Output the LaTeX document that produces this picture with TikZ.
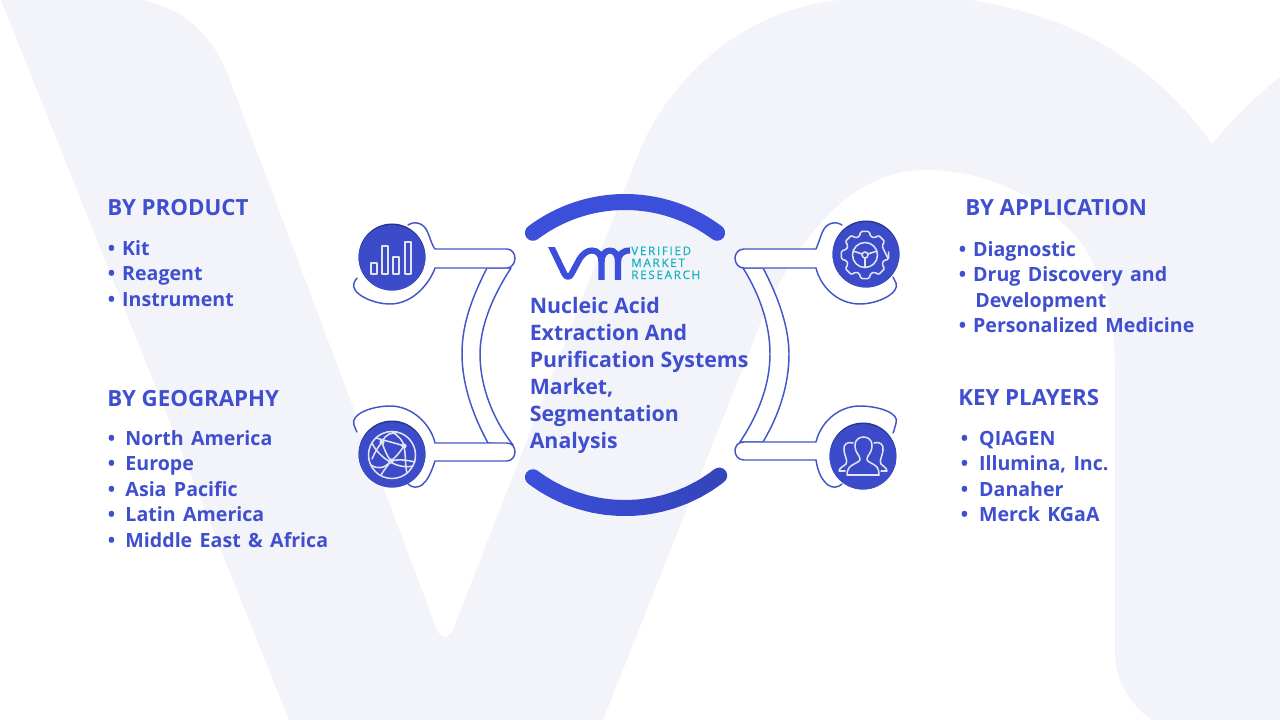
\documentclass[tikz,border=0pt]{standalone}
\usepackage{fontspec}
\setmainfont{Open Sans}
\newfontfamily\logofont[LetterSpace=14,FakeBold=0.5]{Open Sans}
\newfontfamily\itemfont[WordSpace=1.45]{Open Sans}
\definecolor{bgtint}{HTML}{F3F4FA}
\definecolor{ink}{HTML}{3F4FCF}
\definecolor{ringblue}{HTML}{3B4FDB}
\definecolor{lineblue}{HTML}{4157C9}
\definecolor{discblue}{HTML}{3B4BC9}
\definecolor{discdark}{HTML}{2C3690}
\definecolor{iconline}{HTML}{E2E4F0}
\definecolor{teal}{HTML}{17B4BF}
\tikzset{
  x=0.75pt,y=-0.75pt,
  head/.style={anchor=base west,inner sep=0pt,font=\fontsize{16.7pt}{18pt}\selectfont\bfseries,text=ink},
  item/.style={anchor=base west,inner sep=0pt,font=\itemfont\fontsize{14.7pt}{18pt}\selectfont\bfseries,text=ink},
  ttl/.style={anchor=base west,inner sep=0pt,font=\fontsize{16pt}{20pt}\selectfont\bfseries,text=ink},
  logotext/.style={anchor=base west,inner sep=0pt,font=\logofont\fontsize{8.8pt}{10pt}\selectfont,text=teal},
  wire/.style={draw=lineblue,line width=1.1pt,fill=white,line join=round,line cap=round},
  icon/.style={draw=iconline,line width=1.15pt,line join=round,line cap=round},
  logomark/.style={draw=ringblue,line width=4.6pt,line cap=butt,line join=round},
}
\newcommand{\disc}[3]{%
  \fill[discdark] (#1,#2) circle[radius=#3];
  \begin{scope}
    \clip (#1,#2) circle[radius=#3];
    \fill[discblue] (#1,#2+1.6) circle[radius=#3];
  \end{scope}}
\newcommand{\itm}[6]{\node[item] (#1) at (#2,#5) {\makebox[#3pt][l]{•}#6};}
\begin{document}
\begin{tikzpicture}
\useasboundingbox (0,0) rectangle (1280,720);
\begin{scope}
\clip (0,0) rectangle (1280,720);
\fill[white] (0,0) rectangle (1280,720);
\fill[bgtint] (1,0) -- (289,720) -- (603,720) -- (750,350)
  .. controls (790,240) and (850,170) .. (925,170)
  .. controls (990,170) and (1045,200) .. (1079,240)
  .. controls (1105,275) and (1115,320) .. (1115,370)
  -- (1115,653) .. controls (1115,680) and (1130,705) .. (1152,720)
  -- (1280,720) -- (1280,77)
  .. controls (1255,97) and (1232,120) .. (1212,144)
  .. controls (1170,85) and (1100,20) .. (970,0)
  -- (840,0) .. controls (740,10) and (670,80) .. (640,150)
  -- (453,630) .. controls (449,639) and (441,639) .. (437,630)
  -- (228,75) .. controls (210,30) and (180,8) .. (142,0) -- cycle;
\end{scope}

% central ring arcs
\draw[ringblue,line width=12pt,line cap=round] plot[domain=127:53,samples=40] ({625+153*cos(\x)},{355-153*sin(\x)});
\foreach \a/\m in {233/0,238/3,243/6,248/9,253/12,258/15,263/18,268/21,273/24,278/27,283/30,288/33,293/36,298/39,303/42}{
  \pgfmathsetmacro{\b}{\a+5}
  \colorlet{segc}{ringblue!\the\numexpr100-\m\relax!discdark}
  \draw[segc,line width=12pt,line cap=round] plot[domain=\a:\b,samples=5] ({625+153*cos(\x)},{355-153*sin(\x)});
}

% long arcs
\path[wire] (487,268) .. controls (468,305) and (462,330) .. (462,354) .. controls (462,380) and (470,410) .. (488,443)
  -- (513,445) .. controls (492,418) and (480,385) .. (480,354) .. controls (480,330) and (490,300) .. (511,268) -- cycle;
\path[wire] (743,268) .. controls (760,295) and (770,325) .. (770,354) .. controls (770,385) and (758,415) .. (740,442)
  -- (763,442) .. controls (779,415) and (789,385) .. (789,354) .. controls (789,330) and (780,300) .. (763,268) -- cycle;

% bars with halos
\path[wire] (408,225) .. controls (414,221) and (424,222) .. (428,233) .. controls (431,241) and (433,247) .. (435,249)
  -- (507,249) .. controls (512,249) and (515,254) .. (515,258) .. controls (515,264) and (511,268) .. (507,268) -- (435,268)
  .. controls (431,280) and (415,304) .. (390,304) .. controls (372,304) and (350,293) .. (354,283) .. controls (355,281) and (356,279) .. (357,278);
\path[wire] (408,484) .. controls (412,488) and (418,488) .. (422,485) .. controls (428,480) and (431,473) .. (435,461)
  -- (507,461) .. controls (512,461) and (515,456) .. (515,452) .. controls (515,447) and (512,443) .. (507,443) -- (435,443)
  .. controls (431,425) and (413,406) .. (390,406) .. controls (372,406) and (350,414) .. (354,425) .. controls (355,428) and (356,430) .. (357,432);
\path[wire] (842,225) .. controls (836,221) and (826,222) .. (822,233) .. controls (819,241) and (817,247) .. (816,249)
  -- (744,249) .. controls (738,249) and (735,254) .. (735,258) .. controls (735,264) and (739,268) .. (744,268) -- (816,268)
  .. controls (820,285) and (836,304) .. (860,304) .. controls (878,304) and (900,293) .. (896,283) .. controls (895,281) and (894,279) .. (893,277);
\path[wire] (842,484) .. controls (838,488) and (832,488) .. (828,485) .. controls (822,480) and (818,473) .. (816,460)
  -- (744,460) .. controls (738,460) and (735,455) .. (735,451) .. controls (735,446) and (738,442) .. (744,442) -- (816,442)
  .. controls (820,424) and (837,406) .. (860,406) .. controls (878,406) and (900,413) .. (896,423) .. controls (895,427) and (894,431) .. (893,433);

% discs
\disc{392}{257}{33.5}
\disc{392}{454}{33.5}
\disc{866}{254}{33.5}
\disc{863}{456}{33.5}

% bar chart icon
\draw[icon] (371,263) rectangle (377,274);
\draw[icon] (382,246) rectangle (388,274);
\draw[icon] (393,257) rectangle (399,274);
\draw[icon] (405,242) rectangle (411,274);

% globe icon
\draw[icon] (392,455) circle[radius=23.5];
\draw[icon] (382,442) .. controls (386,433) and (392,433) .. (396,433);
\draw[icon] (372,459) .. controls (375,452) and (378,447) .. (382,442) .. controls (384,449) and (387,456) .. (391,461);
\draw[icon] (376,438) .. controls (383,440) and (395,443) .. (404,446) .. controls (400,452) and (396,457) .. (391,461);
\draw[icon] (392,432) .. controls (399,436) and (403,441) .. (404,446) .. controls (406,456) and (405,466) .. (407,473);
\draw[icon] (371,465) .. controls (378,470) and (385,468) .. (391,461) .. controls (398,459) and (407,460) .. (415,462);
\draw[icon] (372,443) .. controls (378,456) and (396,470) .. (413,466);
\draw[icon] (381,475) .. controls (384,470) and (388,465) .. (391,461);
\fill[iconline] (382,442) circle[radius=2.6] (404,446) circle[radius=2.6] (391,461) circle[radius=2.6];

% gear icon
\begin{scope}[shift={(865,255)}]
  \draw[icon,rounded corners=1.2pt] (11:24)
   \foreach \a in {0,45,...,315}{ -- (\a-11:24) -- (\a+11:24) -- (\a+15:19.5) -- (\a+30:19.5) }  -- cycle;
  \draw[icon] (0,0) circle[radius=12.5];
  \draw[icon] (0,0) circle[radius=3];
  \draw[icon] (-2.8,-1) -- (-12,-4) (2.8,-1) -- (12,-4) (0,3) -- (0,12.5);
\end{scope}

% people icon
\draw[icon] (847,475) -- (879,475) .. controls (879,468) and (877,466) .. (871,463) .. controls (867,461) and (866,460) .. (868,456)
  .. controls (871,452) and (872,449) .. (872,445) .. controls (872,440) and (868,437) .. (863.5,437) .. controls (859,437) and (855,440) .. (855,445)
  .. controls (855,449) and (856,452) .. (859,456) .. controls (861,460) and (860,461) .. (856,463) .. controls (850,466) and (847,468) .. (847,475);
\draw[icon] (853,443) .. controls (847,441) and (843,445) .. (844,450) .. controls (845,458) and (848,460) .. (846,464) .. controls (843,467) and (840,467) .. (839,471) -- (845,471);
\draw[icon] (874,443) .. controls (880,441) and (884,445) .. (883,450) .. controls (882,458) and (879,460) .. (881,464) .. controls (884,467) and (886,467) .. (887,471) -- (881,471);

% logo mark
\begin{scope}
\clip (540,247) rectangle (632,279);
\draw[logomark] (550,244) -- (564,273) .. controls (566,278) and (570,278) .. (572,273) -- (579,260) .. controls (583,253) and (588,250.5) .. (592,250.5) .. controls (598,250.5) and (601.5,255) .. (601.5,262) -- (601.5,285);
\draw[logomark] (601.5,262) .. controls (601.5,255) and (605,250.5) .. (610,250.5) .. controls (615,250.5) and (618,255) .. (618,262) -- (618,285);
\draw[logomark] (618,262) .. controls (618,255) and (622,250.5) .. (630,250.5);
\end{scope}
\node[logotext] (logoa) at (631,255) {VERIFIED};
\node[logotext] (logob) at (631,267) {MARKET};
\node[logotext] (logoc) at (631,279) {RESEARCH};

% title
\node[ttl] (t1) at (529.5,313) {Nucleic Acid};
\node[ttl] (t2) at (529.5,340) {Extraction And};
\node[ttl] (t3) at (529.5,367) {Purification Systems};
\node[ttl] (t4) at (529.5,394) {Market,};
\node[ttl] (t5) at (529.5,421) {Segmentation};
\node[ttl] (t6) at (529.5,448) {Analysis};

% left lists
\node[head] (hp) at (107,216) {BY PRODUCT};
\itm{p1}{107.5}{10.8}{}{255}{Kit}
\itm{p2}{107.5}{10.8}{}{280}{Reagent}
\itm{p3}{107.5}{10.8}{}{306}{Instrument}
\node[head] (hg) at (107,406) {BY GEOGRAPHY};
\itm{g1}{107.5}{13.3}{}{445}{North America}
\itm{g2}{107.5}{13.3}{}{470}{Europe}
\itm{g3}{107.5}{13.3}{}{496}{Asia Pacific}
\itm{g4}{107.5}{13.3}{}{521}{Latin America}
\itm{g5}{107.5}{13.3}{}{547}{Middle East \& Africa}

% right lists
\node[head] (ha) at (965,215) {BY APPLICATION};
\itm{a1}{958.5}{10.8}{}{256}{Diagnostic}
\itm{a2}{958.5}{10.8}{}{281}{Drug Discovery and}
\node[item] (a3) at (975,307) {Development};
\itm{a4}{958.5}{10.8}{}{332}{Personalized Medicine}
\node[head] (hk) at (958,405) {KEY PLAYERS};
\itm{k1}{960.5}{13.8}{}{445}{QIAGEN}
\itm{k2}{960.5}{13.8}{}{470}{Illumina, Inc.}
\itm{k3}{960.5}{13.8}{}{496}{Danaher}
\itm{k4}{960.5}{13.8}{}{521}{Merck KGaA}
\end{tikzpicture}
\end{document}
